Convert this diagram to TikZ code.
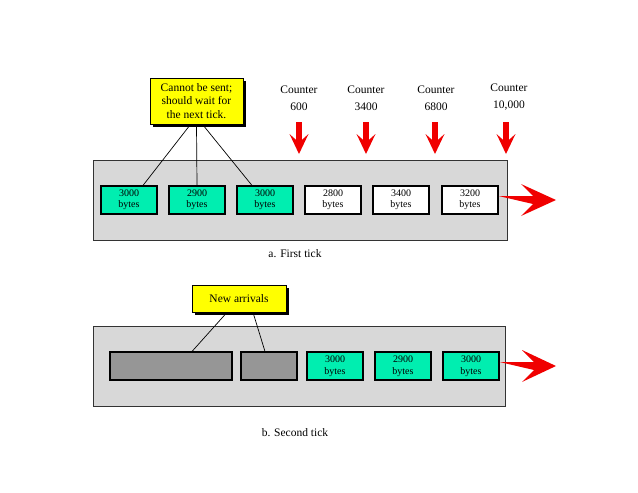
\documentclass[tikz,border=0pt]{standalone}
\usepackage{fontspec}
\setmainfont{Liberation Serif}
\usetikzlibrary{shadows}
\definecolor{pktgreen}{RGB}{0,238,176}
\definecolor{panelgray}{RGB}{216,216,216}
\definecolor{newgray}{RGB}{150,150,150}
\definecolor{notey}{RGB}{255,255,0}
\definecolor{arrred}{RGB}{240,0,0}
\begin{document}
\begin{tikzpicture}[x=1pt,y=-1pt,
  panel/.style={draw=black!80,fill=panelgray,line width=0.8pt},
  pkt/.style={draw=black,line width=1.1pt,minimum width=56pt,minimum height=28pt,inner sep=0pt,
    font=\fontsize{10}{11.5}\selectfont,align=center},
  greenpkt/.style={pkt,fill=pktgreen},
  whitepkt/.style={pkt,fill=white},
  graypkt/.style={pkt,fill=newgray},
  note/.style={draw=black,fill=notey,line width=0.8pt,inner sep=0pt,align=center,
    font=\fontsize{11.5}{13.5}\selectfont},
  shadowed/.style={drop shadow={shadow xshift=2.5pt,shadow yshift=-2.5pt,fill=black,opacity=1}},
  lbl/.style={font=\fontsize{11.5}{17}\selectfont,align=center,inner sep=0pt},
  conn/.style={draw=black,line width=0.7pt},
  redarrow/.style={fill=arrred}]
\useasboundingbox (0,0) rectangle (638,493);
\fill[white] (0,0) rectangle (638,493);

% ---------- a. First tick ----------
\node[panel,minimum width=414pt,minimum height=80pt,inner sep=0pt] (panelA) at (300,200) {};
\node[greenpkt] (a1) at (129,200) {3000\\bytes};
\node[greenpkt] (a2) at (197,200) {2900\\bytes};
\node[greenpkt] (a3) at (265,200) {3000\\bytes};
\node[whitepkt] (a4) at (333,200) {2800\\bytes};
\node[whitepkt] (a5) at (401,200) {3400\\bytes};
\node[whitepkt] (a6) at (470,200) {3200\\bytes};

\node[note,shadowed,minimum width=93pt,minimum height=46pt] (noteA) at (196.5,101)
  {Cannot be sent;\\should wait for\\the next tick.};
\draw[conn] ([xshift=-6pt]noteA.south) -- ([xshift=14pt]a1.north);
\draw[conn] (noteA.south) -- (a2.north);
\draw[conn] ([xshift=6pt]noteA.south) -- ([xshift=-13pt]a3.north);

\node[lbl] (c1) at (299,98) {Counter\\600};
\node[lbl] (c2) at (366,98) {Counter\\3400};
\node[lbl] (c3) at (436,98) {Counter\\6800};
\node[lbl] (c4) at (509,97) {Counter\\10,000};

\foreach \n/\x in {d1/299,d2/366,d3/435,d4/506}{
  \coordinate (\n) at (\x,154);
  \fill[redarrow] (\x-2.8,122) -- (\x+2.8,122) -- (\x+2.8,140) -- (\x+9.5,134) -- (\n)
     -- (\x-9.5,134) -- (\x-2.8,140) -- cycle;
}

\coordinate (tipA) at (556,200);
\fill[redarrow] (a6.east) ++(0,-4) -- (533,196) -- (521,184) -- (tipA) -- (521,216)
  -- (533,204) -- ([yshift=4pt]a6.east) -- cycle;

\node[lbl] (capA) at (295,254) {a. First tick};

% ---------- b. Second tick ----------
\node[panel,minimum width=412pt,minimum height=80pt,inner sep=0pt] (panelB) at (299,366) {};
\node[graypkt,minimum width=122pt] (b1) at (171,366) {};
\node[graypkt] (b2) at (269,366) {};
\node[greenpkt] (b3) at (335,366) {3000\\bytes};
\node[greenpkt] (b4) at (403,366) {2900\\bytes};
\node[greenpkt] (b5) at (471,366) {3000\\bytes};

\node[note,shadowed,minimum width=94pt,minimum height=27pt] (noteB) at (239,298.5) {New arrivals};
\draw[conn] ([xshift=-12pt]noteB.south) -- ([xshift=21pt]b1.north);
\draw[conn] ([xshift=14pt]noteB.south) -- ([xshift=-4pt]b2.north);

\coordinate (tipB) at (556,366);
\fill[redarrow] (b5.east) ++(0,-4) -- (534,362) -- (522,350) -- (tipB) -- (522,382)
  -- (534,370) -- ([yshift=4pt]b5.east) -- cycle;

\node[lbl] (capB) at (295,433) {b. Second tick};
\end{tikzpicture}
\end{document}
